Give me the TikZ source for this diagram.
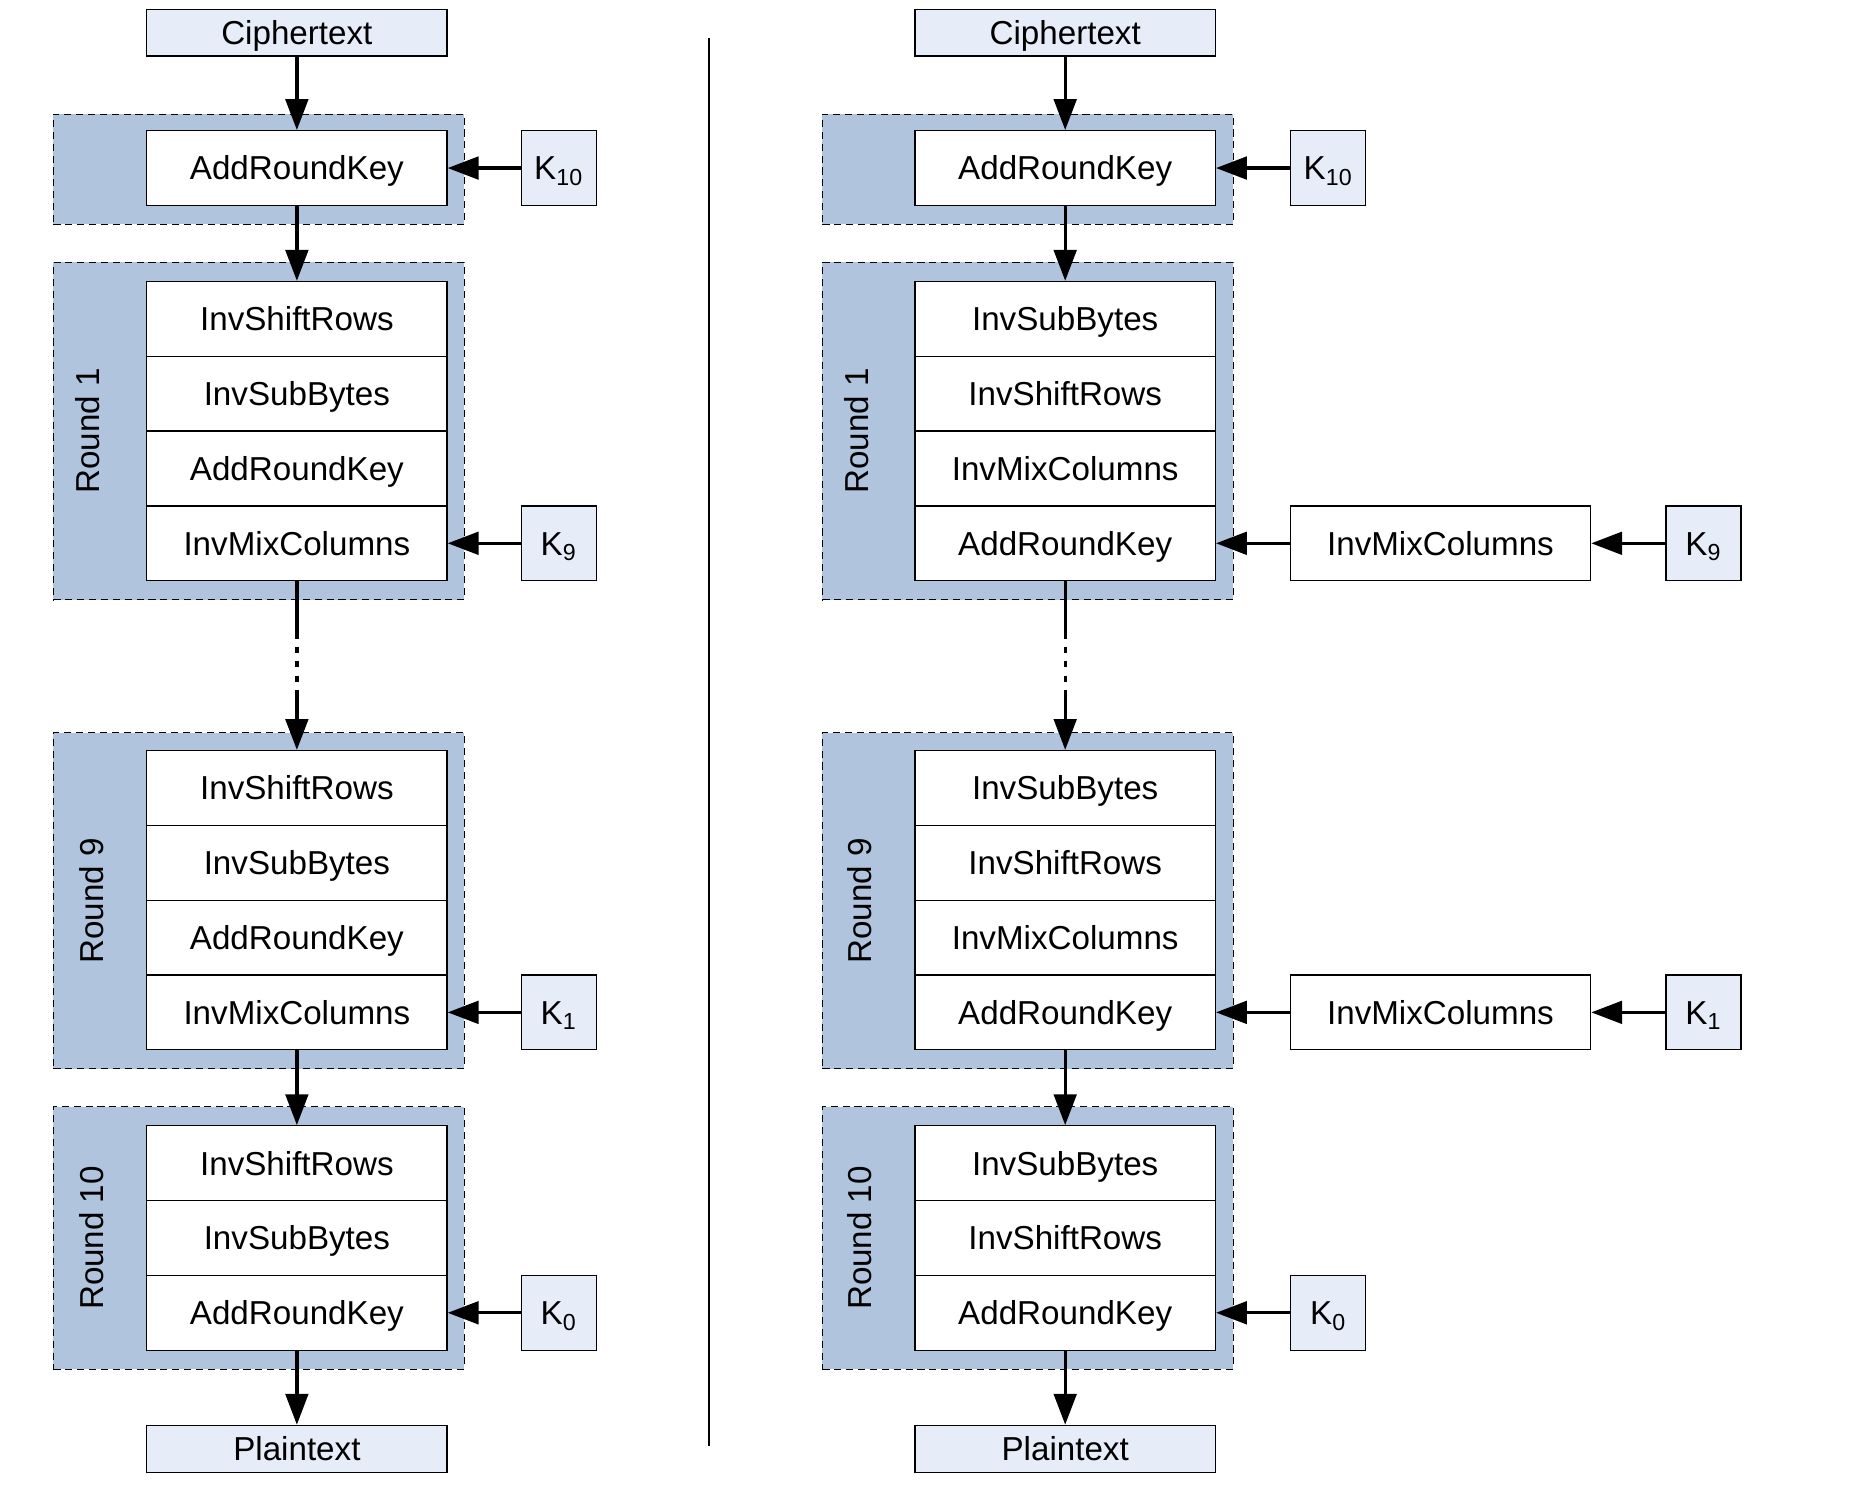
\documentclass[tikz,border=0pt]{standalone}
\usepackage{fontspec}
\setmainfont{Liberation Sans}
\usetikzlibrary{arrows.meta,positioning}
\definecolor{grpblue}{RGB}{176,196,222}
\definecolor{keyblue}{RGB}{230,236,248}
\newcommand{\rkey}[1]{K\textsubscript{#1}}
\newcommand{\boxfont}{\fontsize{15.9}{19}\selectfont}

\begin{document}
\begin{tikzpicture}[x=0.02cm, y=-0.02cm,
		stage/.style={draw, fill=white, line width=0.6pt, inner sep=0pt,
				text height=13pt, text depth=1.6pt,
				minimum width=5.06cm, minimum height=1.26cm, font=\boxfont},
		keybox/.style={draw, fill=keyblue, line width=0.6pt, inner sep=0pt,
				text height=13pt, text depth=1.6pt,
				minimum width=1.26cm, minimum height=1.26cm, font=\boxfont},
		io/.style={draw, fill=keyblue, line width=0.6pt, inner sep=0pt,
				text height=13pt, text depth=1.6pt,
				minimum width=5.06cm, minimum height=0.79cm, font=\boxfont},
		grp/.style={draw, fill=grpblue, line width=0.5pt,
				dash pattern=on 0.12cm off 0.08cm, minimum width=6.92cm},
		rlabel/.style={rotate=90, font=\boxfont},
		arr/.style={-{Triangle[length=0.52cm,width=0.38cm]}, line width=1.6pt},
		dots/.style={line width=1.6pt, dash pattern=on 0.1cm off 0.14cm, dash phase=0.1cm}]

	\useasboundingbox (0,0) rectangle (1568,1259);

	% Left: first key addition
	\node[grp, minimum height=1.86cm] (lg0) at (218,142.5) {};
	\node[io] (lct) at (250,27.5) {Ciphertext};
	\node[stage] (lark) at (250,141.5) {AddRoundKey};
	\node[keybox] (lk10) at (470.5,141.5) {\rkey{10}};

	% Left: Round 1
	\node[grp, minimum height=5.68cm] (lg1) at (218,363) {};
	\node[rlabel] (lr1lab) at (74,363) {Round 1};
	\node[stage] (lr1a) at (250,268.5) {InvShiftRows};
	\node[stage] (lr1b) at (250,331.5) {InvSubBytes};
	\node[stage] (lr1c) at (250,394.5) {AddRoundKey};
	\node[stage] (lr1d) at (250,457.5) {InvMixColumns};
	\node[keybox] (lk9) at (470.5,457.5) {\rkey{9}};

	% Left: Round 9
	\node[grp, minimum height=5.66cm] (lg9) at (218,758.5) {};
	\node[rlabel] (lr9lab) at (77,758.5) {Round 9};
	\node[stage] (lr9a) at (250,663.5) {InvShiftRows};
	\node[stage] (lr9b) at (250,726.5) {InvSubBytes};
	\node[stage] (lr9c) at (250,789.5) {AddRoundKey};
	\node[stage] (lr9d) at (250,852.5) {InvMixColumns};
	\node[keybox] (lk1) at (470.5,852.5) {\rkey{1}};

	% Left: Round 10
	\node[grp, minimum height=4.42cm] (lg10) at (218,1042.5) {};
	\node[rlabel] (lr10lab) at (77,1042.5) {Round 10};
	\node[stage] (lr10a) at (250,979.5) {InvShiftRows};
	\node[stage] (lr10b) at (250,1042.5) {InvSubBytes};
	\node[stage] (lr10c) at (250,1105.5) {AddRoundKey};
	\node[keybox] (lk0) at (470.5,1105.5) {\rkey{0}};
	\node[io] (lpt) at (250,1220) {Plaintext};

	% Right: first key addition
	\node[grp, minimum height=1.86cm] (rg0) at (865.5,142.5) {};
	\node[io] (rct) at (897,27.5) {Ciphertext};
	\node[stage] (rark) at (897,141.5) {AddRoundKey};
	\node[keybox] (rk10) at (1118.5,141.5) {\rkey{10}};

	% Right: Round 1
	\node[grp, minimum height=5.68cm] (rg1) at (865.5,363) {};
	\node[rlabel] (rr1lab) at (721,363) {Round 1};
	\node[stage] (rr1a) at (897,268.5) {InvSubBytes};
	\node[stage] (rr1b) at (897,331.5) {InvShiftRows};
	\node[stage] (rr1c) at (897,394.5) {InvMixColumns};
	\node[stage] (rr1d) at (897,457.5) {AddRoundKey};
	\node[stage] (rmix9) at (1213,457.5) {InvMixColumns};
	\node[keybox] (rk9) at (1434.5,457.5) {\rkey{9}};

	% Right: Round 9
	\node[grp, minimum height=5.66cm] (rg9) at (865.5,758.5) {};
	\node[rlabel] (rr9lab) at (724,758.5) {Round 9};
	\node[stage] (rr9a) at (897,663.5) {InvSubBytes};
	\node[stage] (rr9b) at (897,726.5) {InvShiftRows};
	\node[stage] (rr9c) at (897,789.5) {InvMixColumns};
	\node[stage] (rr9d) at (897,852.5) {AddRoundKey};
	\node[stage] (rmix1) at (1213,852.5) {InvMixColumns};
	\node[keybox] (rk1) at (1434.5,852.5) {\rkey{1}};

	% Right: Round 10
	\node[grp, minimum height=4.42cm] (rg10) at (865.5,1042.5) {};
	\node[rlabel] (rr10lab) at (724,1042.5) {Round 10};
	\node[stage] (rr10a) at (897,979.5) {InvSubBytes};
	\node[stage] (rr10b) at (897,1042.5) {InvShiftRows};
	\node[stage] (rr10c) at (897,1105.5) {AddRoundKey};
	\node[keybox] (rk0) at (1118.5,1105.5) {\rkey{0}};
	\node[io] (rpt) at (897,1220) {Plaintext};

	% gaps between round 1 and round 9
	\coordinate (ldot1) at (250,538);
	\coordinate (ldot2) at (250,581);
	\coordinate (rdot1) at (897,538);
	\coordinate (rdot2) at (897,581);

	% left connectors
	\draw[arr] (lct) -- (lark);
	\draw[arr] (lk10) -- (lark);
	\draw[arr] (lark) -- (lr1a);
	\draw[arr] (lk9) -- (lr1d);
	\draw[line width=1.6pt] (lr1d.south) -- (ldot1);
	\draw[dots] (ldot1) -- (ldot2);
	\draw[arr] (ldot2) -- (lr9a.north);
	\draw[arr] (lk1) -- (lr9d);
	\draw[arr] (lr9d) -- (lr10a);
	\draw[arr] (lk0) -- (lr10c);
	\draw[arr] (lr10c) -- (lpt);

	% right connectors
	\draw[arr] (rct) -- (rark);
	\draw[arr] (rk10) -- (rark);
	\draw[arr] (rark) -- (rr1a);
	\draw[arr] (rk9) -- (rmix9);
	\draw[arr] (rmix9) -- (rr1d);
	\draw[line width=1.6pt] (rr1d.south) -- (rdot1);
	\draw[dots] (rdot1) -- (rdot2);
	\draw[arr] (rdot2) -- (rr9a.north);
	\draw[arr] (rk1) -- (rmix1);
	\draw[arr] (rmix1) -- (rr9d);
	\draw[arr] (rr9d) -- (rr10a);
	\draw[arr] (rk0) -- (rr10c);
	\draw[arr] (rr10c) -- (rpt);

	% divider
	\coordinate (divtop) at (597,32);
	\coordinate (divbot) at (597,1218);
	\draw[line width=1.2pt] (divtop) -- (divbot);

\end{tikzpicture}
\end{document}
